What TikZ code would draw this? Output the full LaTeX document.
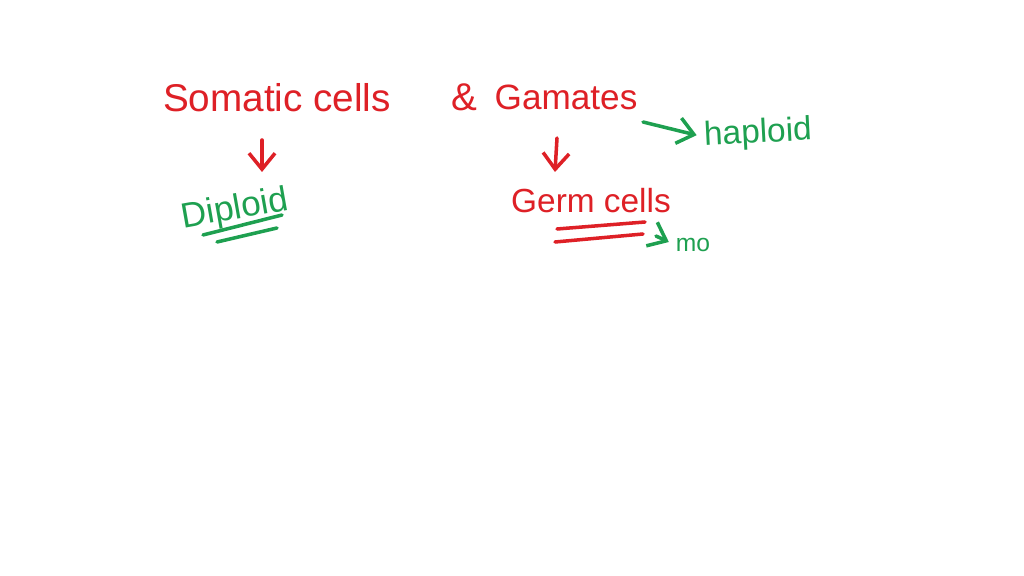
\documentclass[tikz,border=0pt]{standalone}
\usepackage{fontspec}
\setmainfont{Liberation Sans}
\usetikzlibrary{arrows.meta}
\definecolor{penred}{RGB}{222,32,38}
\definecolor{pengreen}{RGB}{30,160,80}
\tikzset{
  redword/.style={text=penred,font=\fontsize{11}{11}\selectfont,inner sep=0pt},
  greenword/.style={text=pengreen,font=\fontsize{10}{10}\selectfont,inner sep=0pt},
  redpen/.style={draw=penred,line width=1pt,line cap=round},
  greenpen/.style={draw=pengreen,line width=1pt,line cap=round},
  pentip/.style={-{Straight Barb[length=1.6mm,width=2.6mm]}}
}
\begin{document}
\begin{tikzpicture}[x=0.01cm,y=-0.01cm]
        \useasboundingbox[fill=white] (0,0) rectangle (1024,576);
        % top line
        \node[redword] (somatic) at (277,98) {Somatic cells};
        \node[redword] (and) at (464,97) {\&};
        \node[redword,font=\fontsize{10}{10}\selectfont] (gamates) at (566,97) {Gamates};
        % left branch
        \coordinate (somaticfrom) at (262,140);
        \coordinate (somaticto) at (262,172);
        \draw[redpen,pentip] (somaticfrom) -- (somaticto);
        \node[greenword,rotate=10] (diploid) at (235,210) {Diploid};
        \draw[greenpen] (203,235) -- (282,215);
        \draw[greenpen] (217,242) -- (277,228);
        % right branch
        \coordinate (gamatesfrom) at (557,138);
        \coordinate (gamatesto) at (555,172);
        \draw[redpen,pentip] (gamatesfrom) -- (gamatesto);
        \node[redword,font=\fontsize{9.5}{9.5}\selectfont] (germ) at (591,201) {Germ cells};
        \draw[redpen] (557,229) -- (645,222);
        \draw[redpen] (555,242) -- (643,234);
        \coordinate (haploidfrom) at (643,122);
        \node[greenword,font=\fontsize{9.5}{9.5}\selectfont,rotate=3] (haploid) at (758,134) {haploid};
        \draw[greenpen,pentip,shorten >=2pt] (haploidfrom) -- (haploid.west);
        \coordinate (mofrom) at (656,236);
        \node[greenword,font=\fontsize{7}{7}\selectfont] (mo) at (693,245) {mo};
        \draw[greenpen,pentip,shorten >=2pt] (mofrom) -- (mo.west);
      \end{tikzpicture}
\end{document}
